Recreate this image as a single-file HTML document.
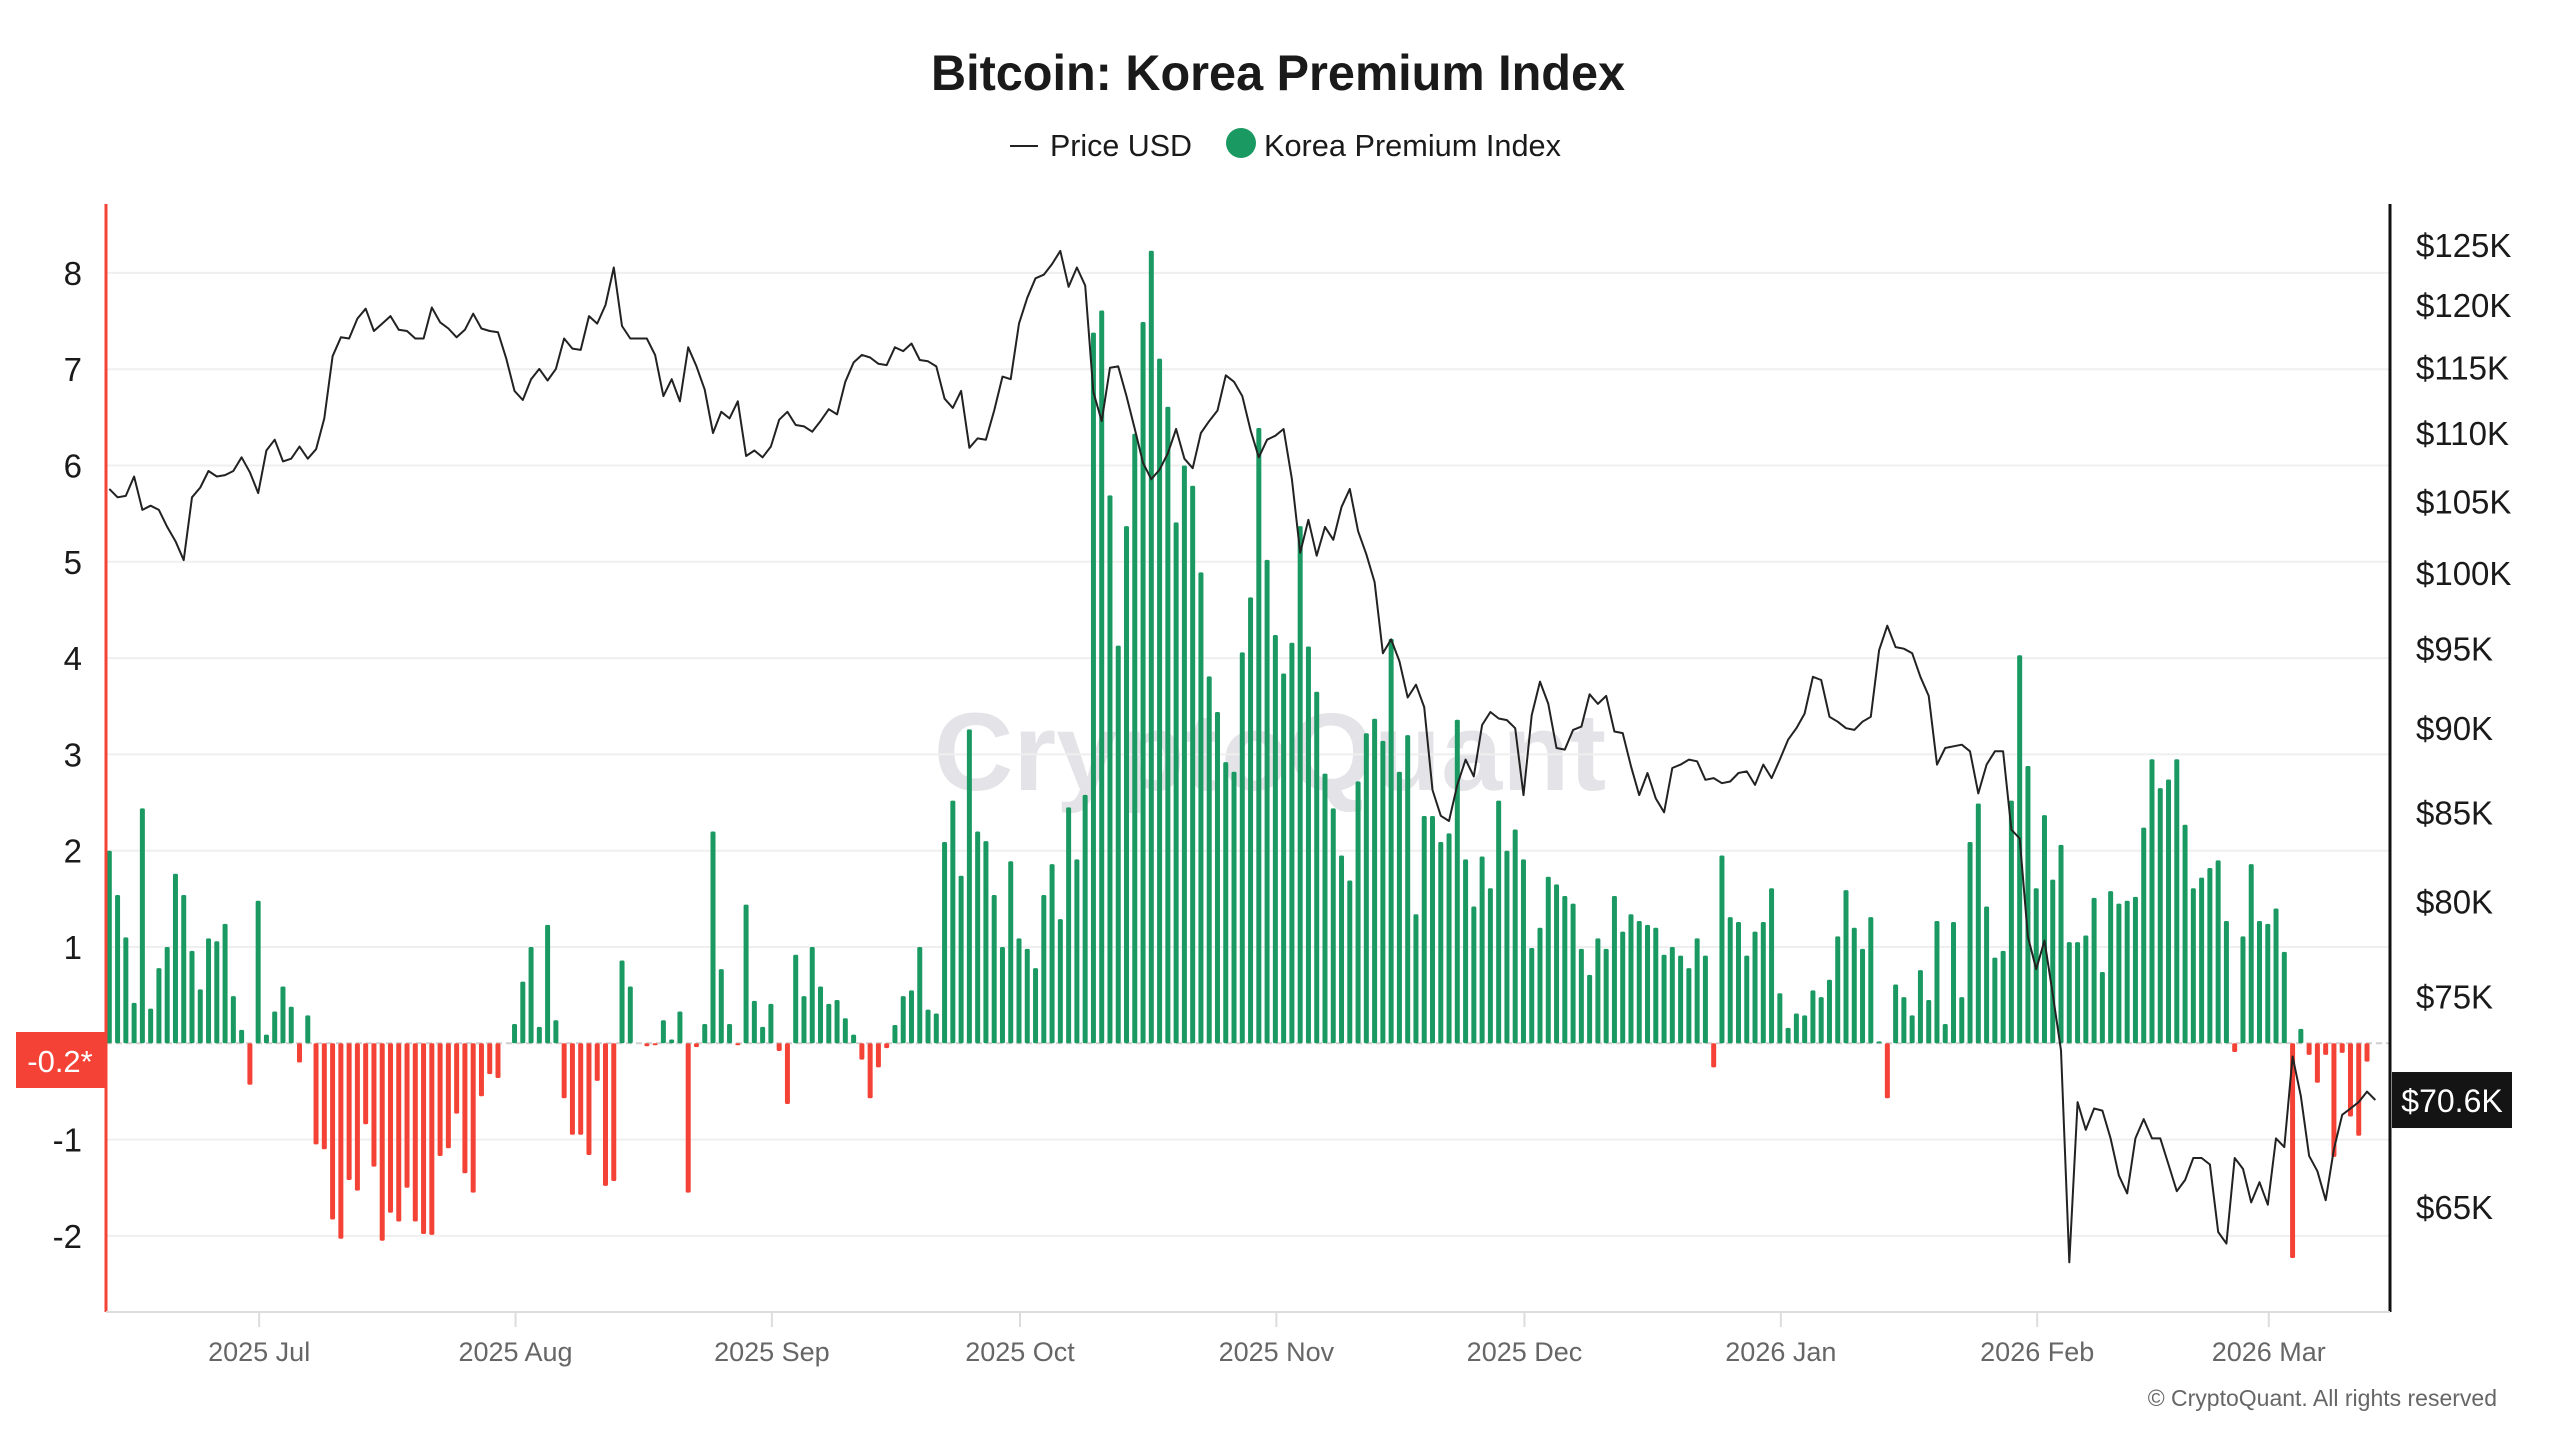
<!DOCTYPE html>
<html><head><meta charset="utf-8"><title>Bitcoin: Korea Premium Index</title>
<style>
html,body{margin:0;padding:0;background:#fff;}
svg{display:block;font-family:"Liberation Sans",sans-serif;}
</style></head>
<body>
<svg id="chart" width="2560" height="1440" viewBox="0 0 2560 1440" xmlns="http://www.w3.org/2000/svg">
<text x="1278" y="90" text-anchor="middle" font-size="50" font-weight="bold" fill="#1a1a1a" textLength="694" lengthAdjust="spacingAndGlyphs">Bitcoin: Korea Premium Index</text>
<g>
<g>
<line x1="1010" y1="146" x2="1038" y2="146" stroke="#222" stroke-width="2"/>
<text x="1050" y="156" font-size="31" fill="#1a1a1a" textLength="142" lengthAdjust="spacingAndGlyphs">Price USD</text>
</g>
<g>
<circle cx="1241" cy="143" r="15" fill="#1a9a62"/>
<text x="1264" y="156" font-size="31" fill="#1a1a1a" textLength="297" lengthAdjust="spacingAndGlyphs">Korea Premium Index</text>
</g>
</g>
<text x="1270" y="790" text-anchor="middle" font-size="110" font-weight="bold" fill="#e4e4e8">CryptoQuant</text>
<g id="grid"></g>
<g id="bars"></g>
<g id="line"></g>
<g id="axes"></g>
<text x="2497" y="1406" text-anchor="end" font-size="23" fill="#666">© CryptoQuant. All rights reserved</text>
</svg>
<script>
const premium = [2.0,1.54,1.1,0.42,2.44,0.36,0.78,1.0,1.76,1.54,0.96,0.56,1.09,1.06,1.24,0.49,0.14,-0.43,1.48,0.09,0.33,0.59,0.38,-0.2,0.29,-1.05,-1.1,-1.83,-2.03,-1.42,-1.53,-0.84,-1.28,-2.05,-1.76,-1.85,-1.5,-1.85,-1.98,-1.99,-1.17,-1.09,-0.73,-1.35,-1.55,-0.55,-0.32,-0.36,0,0.2,0.64,1.0,0.17,1.23,0.24,-0.57,-0.95,
-0.95,-1.16,-0.39,-1.48,-1.43,0.86,0.59,0,-0.03,-0.02,0.24,0.04,0.33,-1.55,-0.04,0.2,2.2,0.77,0.2,-0.02,1.44,0.44,0.17,0.41,-0.08,-0.63,0.92,0.49,1.0,0.59,0.41,0.45,0.26,0.09,-0.17,-0.57,-0.25,-0.05,0.19,0.49,0.55,1.0,0.35,0.31,2.09,2.52,1.74,3.26,2.2,2.1,1.54,1.0,1.89,1.09,0.98,0.78,1.54,
1.86,1.29,2.45,1.91,2.58,7.38,7.61,5.69,4.13,5.37,6.33,7.49,8.23,7.11,6.61,5.41,6.0,5.79,4.89,3.81,3.44,2.92,2.82,4.06,4.63,6.39,5.02,4.24,3.84,4.16,5.37,4.12,3.65,2.8,2.44,1.95,1.69,2.72,3.22,3.37,3.14,4.2,2.82,3.2,1.34,2.36,2.36,2.09,2.18,3.36,1.91,1.42,1.94,1.61,2.52,2.0,2.22,
1.91,0.99,1.2,1.73,1.65,1.53,1.45,0.98,0.71,1.09,0.98,1.53,1.16,1.34,1.27,1.23,1.2,0.92,1.0,0.91,0.78,1.09,0.91,-0.25,1.95,1.31,1.26,0.91,1.16,1.26,1.61,0.52,0.16,0.31,0.29,0.55,0.48,0.66,1.11,1.59,1.2,0.98,1.31,0.02,-0.57,0.61,0.48,0.29,0.76,0.45,1.27,0.2,1.26,0.48,2.09,2.49,1.42,
0.89,0.96,2.52,4.03,2.88,1.61,2.37,1.7,2.06,1.05,1.05,1.12,1.51,0.74,1.58,1.45,1.48,1.52,2.24,2.95,2.65,2.74,2.95,2.27,1.61,1.72,1.82,1.9,1.27,-0.09,1.11,1.86,1.27,1.24,1.4,0.95,-2.23,0.15,-0.12,-0.41,-0.12,-1.18,-0.1,-0.76,-0.96,-0.19];
const price = [105.9,105.3,105.4,106.8,104.4,104.7,104.4,103.2,102.2,100.9,105.3,106.0,107.2,106.8,106.9,107.2,108.2,107.1,105.6,108.7,109.5,107.9,108.1,109.0,108.1,108.8,111.1,115.9,117.4,117.3,118.9,119.7,117.9,118.5,119.1,118.0,117.9,117.3,117.3,119.8,118.6,118.1,117.4,118.0,119.3,118.1,117.9,117.8,115.7,113.2,112.5,114.1,114.9,114.0,114.9,117.3,116.5,
116.4,119.1,118.5,120.0,123.1,118.3,117.3,117.3,117.3,116.0,112.8,114.1,112.4,116.6,115.1,113.3,110.0,111.6,111.1,112.4,108.3,108.7,108.2,109.0,111.0,111.6,110.6,110.5,110.1,110.9,111.8,111.4,113.9,115.4,116.0,115.8,115.3,115.2,116.6,116.3,116.9,115.6,115.5,115.1,112.6,111.9,113.2,108.9,109.6,109.5,111.7,114.3,114.1,118.5,120.6,122.2,122.5,
123.4,124.5,121.5,123.1,121.6,113.1,110.9,115.0,115.1,112.8,110.3,107.8,106.6,107.3,108.5,110.3,108.1,107.4,110.0,110.9,111.7,114.4,113.9,112.8,110.2,108.2,109.5,109.8,110.3,106.6,101.4,103.7,101.2,103.2,102.3,104.6,105.9,102.9,101.3,99.4,94.7,95.6,94.2,91.9,92.7,91.3,86.3,84.8,84.5,86.6,88.1,87.1,90.2,91.0,90.6,90.5,90.0,
86.0,90.8,92.9,91.5,88.8,88.7,89.9,90.1,92.1,91.5,92.0,89.8,89.7,87.7,86.0,87.3,85.8,85.0,87.6,87.8,88.1,88.0,86.9,87.0,86.7,86.8,87.3,87.4,86.6,87.8,87.0,88.1,89.3,90.0,90.9,93.2,93.0,90.7,90.4,90.0,89.9,90.4,90.7,94.9,96.5,95.1,95.0,94.7,93.2,92.0,87.8,88.8,88.9,89.0,88.6,86.1,87.8,
88.6,88.6,84.0,83.5,78.1,76.4,77.9,75.1,72.3,62.6,69.8,68.5,69.5,69.4,68.1,66.4,65.6,68.1,69.0,68.1,68.1,66.9,65.7,66.2,67.2,67.2,66.9,63.9,63.4,67.2,66.7,65.2,66.1,65.1,68.1,67.7,72.0,70.1,67.3,66.6,65.3,67.6,69.2,69.5,69.8,70.3,69.9];
const monthLabels = ["2025 Jul","2025 Aug","2025 Sep","2025 Oct","2025 Nov","2025 Dec","2026 Jan","2026 Feb","2026 Mar"];
const monthDayIndex = [18,49,80,110,141,171,202,233,261];
const leftTicks = [-2,-1,0,1,2,3,4,5,6,7,8];
const rightTicks = [65,75,80,85,90,95,100,105,110,115,120,125];
const lastPriceLabel = "$70.6K";
const lastPremiumLabel = "-0.2*";

const NS = "http://www.w3.org/2000/svg";
const PL = 106, PR = 2390, PT = 204, PB = 1312;
function x(i){ return 109.3 + i*8.27; }
function yL(v){ return 1043.3 - v*96.3; }
function yR(p){ return 245 + 1471*Math.log(125/p); }
function mk(tag, attrs, parent){
  const e = document.createElementNS(NS, tag);
  for (const k in attrs) e.setAttribute(k, attrs[k]);
  parent.appendChild(e); return e;
}
const grid = document.getElementById('grid');
const bars = document.getElementById('bars');
const lineG = document.getElementById('line');
const axes = document.getElementById('axes');

leftTicks.forEach(v => {
  const g = mk('line', {x1:PL, x2:PR, y1:yL(v), y2:yL(v), stroke: v===0?'#cfcfcf':'#efefef', 'stroke-width':2, 'stroke-dasharray': v===0?'6 4':'none'}, grid);
  
  
  const t = mk('text', {x:82, y:yL(v)+12, 'text-anchor':'end', 'font-size':33, fill:'#1a1a1a'}, axes);
  t.textContent = String(v);
  
  
});

premium.forEach((v, i) => {
  const top = Math.min(yL(v), yL(0)), h = Math.max(Math.abs(yL(v) - yL(0)), 0.01);
  const r = mk('rect', {x:x(i)-2.5, y:top, width:5, height:h, rx:1.5, fill: v>=0 ? '#1a9a62' : '#f44336'}, bars);
  
  
});

let d = '';
price.forEach((p, i) => { d += (i ? 'L' : 'M') + x(i).toFixed(1) + ' ' + yR(p).toFixed(1); });
const path = mk('path', {d:d, fill:'none', stroke:'#222', 'stroke-width':2, 'stroke-linejoin':'round'}, lineG);



const la = mk('line', {x1:PL, x2:PL, y1:PT, y2:PB, stroke:'#f44336', 'stroke-width':3}, axes);


const ra = mk('line', {x1:PR, x2:PR, y1:PT, y2:PB, stroke:'#111', 'stroke-width':3}, axes);


const xa = mk('line', {x1:PL, x2:PR, y1:PB, y2:PB, stroke:'#dcdcdc', 'stroke-width':2}, axes);



rightTicks.forEach(p => {
  const t = mk('text', {x:2416, y:yR(p)+12, 'font-size':33, fill:'#1a1a1a'}, axes);
  t.textContent = '$' + p + 'K';
  
  
});

monthLabels.forEach((lab, k) => {
  const xx = x(monthDayIndex[k]) + 1;
  const tk = mk('line', {x1:xx, x2:xx, y1:PB, y2:PB+15, stroke:'#dcdcdc', 'stroke-width':2}, axes);
  
  
  const t = mk('text', {x:xx, y:1361, 'text-anchor':'middle', 'font-size':27, fill:'#666'}, axes);
  t.textContent = lab;
  
  
});

const lpY = yR(price[price.length-1]);
const pb = mk('rect', {x:2392, y:lpY-28, width:120, height:56, fill:'#141414'}, axes);


const pt = mk('text', {x:2452, y:lpY+12, 'text-anchor':'middle', 'font-size':32, fill:'#fff'}, axes);
pt.textContent = lastPriceLabel;



const bb = mk('rect', {x:16, y:1032, width:90, height:56, fill:'#f44336'}, axes);


const bt = mk('text', {x:60, y:1072, 'text-anchor':'middle', 'font-size':31, fill:'#fff'}, axes);
bt.textContent = lastPremiumLabel;


</script>
</body></html>
